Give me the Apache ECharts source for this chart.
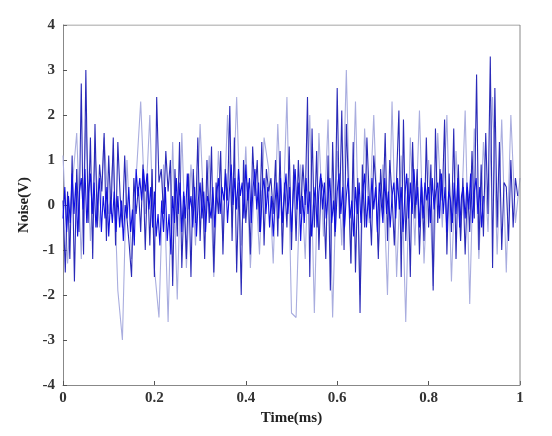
<!DOCTYPE html>
<html><head><meta charset="utf-8">
<script src="https://cdn.jsdelivr.net/npm/echarts@6/dist/echarts.min.js"></script>
<style>html,body{margin:0;background:#fff}#c{width:552px;height:436px}</style>
</head><body><div id="c"></div>
<script>
// main trace, sampled every 0.005 ms
const noiseMain = [
 0.1,-1.5,0.3,-1.2,1.1,-1.7,0.8,-0.6,2.7,-1.1,3.0,-0.4,1.5,-1.2,1.8,-0.5,0.9,0.3,1.6,-0.8,
 1.1,-0.2,1.5,-0.9,1.4,0.2,-0.5,1.1,-0.3,-0.9,-1.6,0.6,-0.2,0.4,-0.6,0.9,-1.0,0.7,-0.9,0.8,
 -1.6,2.4,0.5,0.8,-0.2,1.2,0.3,1.0,-1.8,0.8,-0.7,1.4,-1.4,0.2,-1.2,0.7,-1.6,0.8,-0.4,1.5,
 -0.8,0.6,-1.2,1.0,-0.4,1.3,-1.5,0.5,-0.2,1.2,-1.1,0.8,0.1,2.2,-0.8,1.5,-1.5,0.5,-2.0,1.0,
 -0.4,0.5,-1.1,1.3,0.2,1.0,-0.6,1.4,-0.9,0.8,0.3,0.6,-0.2,1.0,-0.7,1.2,-1.1,0.5,-0.5,1.3,
 -1.0,0.9,-0.8,1.0,-0.2,0.9,0.0,2.4,-1.6,1.7,-0.5,1.2,-1.0,0.6,0.3,-1.2,1.1,-1.9,1.4,-0.7,
 2.6,-0.3,2.1,-1.0,1.8,0.3,-1.3,1.4,-1.5,0.6,-2.4,0.9,-0.5,1.5,0.2,-0.9,1.1,0.4,-1.2,0.8,
 -0.2,1.6,-0.8,1.0,0.2,-0.9,0.6,2.1,-1.6,1.9,-0.8,0.6,-1.6,1.4,-0.3,0.8,-1.1,0.4,-0.8,1.5,
 -0.5,0.9,-1.9,1.7,-0.4,0.8,0.1,1.9,-1.1,0.7,-0.6,1.7,-1.2,0.9,-0.8,0.6,-1.1,0.4,-0.6,1.2,
 -0.3,2.9,-1.0,0.9,-0.7,1.6,-0.2,3.3,-1.4,2.6,-0.5,1.4,-1.0,0.5,0.4,-0.8,1.0,-0.5,0.6,0.2
];
// dense low-amplitude core, sampled every 0.004 ms
const noiseCore = [
 -0.3,0.4,-0.6,0.2,-0.4,0.7,-0.2,0.5,-0.7,0.3,0.6,-0.1,0.8,-0.4,0.3,0.7,-0.2,0.5,-0.5,0.1,
 0.6,-0.6,0.2,-0.3,0.4,-0.7,0.1,-0.4,0.3,-0.6,0.2,-0.5,0.1,-0.8,0.0,-0.3,0.4,-0.6,-0.1,-0.9,
 0.8,0.2,0.6,0.1,0.8,0.3,0.7,-0.1,0.4,-0.5,0.3,-0.7,-0.2,-0.9,0.1,-0.6,0.4,-0.8,-0.2,-1.1,
 0.2,-0.4,0.6,-0.2,0.5,-0.6,0.3,-0.3,0.7,-0.1,0.2,-0.5,0.4,-0.7,0.1,0.5,-0.3,0.3,-0.6,0.2,
 0.0,-0.3,0.4,-0.5,0.2,0.6,-0.2,0.4,0.1,0.7,-0.4,0.3,0.9,0.0,0.6,-0.1,0.8,0.2,0.5,-0.3,
 0.9,0.1,0.6,-0.4,0.4,0.8,-0.1,0.5,-0.6,0.3,0.6,-0.2,0.4,-0.5,0.2,-0.7,0.1,0.5,-0.3,0.6,
 -0.4,0.2,0.7,-0.2,0.4,-0.6,0.3,0.8,-0.1,0.5,-0.8,0.2,-0.4,0.6,-0.2,0.3,-0.7,0.0,0.4,-0.5,
 0.3,0.7,-0.1,0.5,-0.3,0.2,0.6,-0.4,0.1,-0.6,0.3,0.7,-0.2,0.4,-0.5,0.2,0.6,-0.3,0.1,-0.7,
 0.4,-0.2,0.5,-0.4,0.3,0.7,-0.5,0.2,-0.3,0.6,-0.1,0.4,-0.6,0.5,0.1,-0.4,0.6,-0.2,0.3,-0.5,
 0.2,0.5,-0.3,0.6,-0.1,0.4,-0.6,0.2,0.7,-0.3,0.5,-0.2,0.8,0.0,0.4,-0.5,0.6,-0.3,0.5,0.1,
 0.4,-0.4,0.6,-0.1,0.3,0.5,-0.3,0.7,-0.2,0.4,-0.6,0.3,0.1,-0.4,0.5,-0.2,0.6,-0.5,0.2,0.4,
 -0.3,0.5,-0.1,0.7,-0.4,0.3,0.6,-0.2,0.4,-0.5,0.2
];
// faint background trace, sampled every 0.01 ms
const noiseFaint = [
 1.1,-1.3,0.4,1.6,-1.2,1.9,-0.8,1.2,-0.5,1.5,-0.2,1.1,-1.9,-3.0,1.0,-1.2,0.6,2.3,-0.2,2.0,
 -1.4,-2.5,0.9,-2.6,1.4,-2.1,1.6,-1.4,0.9,-0.9,1.8,-0.6,1.1,-1.6,1.2,-0.8,2.0,-0.5,2.4,-0.9,
 1.3,-1.4,0.7,-1.1,1.5,0.8,-1.3,1.8,-0.7,2.4,-2.4,-2.5,0.9,-1.2,2.0,-2.4,1.6,-0.7,1.9,-2.5,
 1.2,-0.9,3.0,-1.3,2.3,-2.0,1.7,-0.4,2.0,-1.0,0.9,-2.0,2.3,-1.6,1.1,-2.6,1.5,-0.9,2.1,-1.3,
 1.0,-1.8,1.6,-0.5,2.0,-1.7,1.2,-0.8,2.1,-2.2,1.7,-1.2,1.4,-0.6,2.4,-1.1,1.9,-1.5,2.0,-0.4,0.6
];
const xTicks = [0, 0.2, 0.4, 0.6, 0.8, 1];
const yTicks = [-4, -3, -2, -1, 0, 1, 2, 3, 4];

const mainData = noiseMain.map((v, i) => [i * 0.005, v]);
const coreData = noiseCore.map((v, i) => [i * 0.004, v]);
const faintData = noiseFaint.map((v, i) => [i * 0.01, v]);

const font = '"Liberation Serif", "DejaVu Serif", serif';
const chart = echarts.init(document.getElementById('c'));
chart.setOption({
  animation: false,
  grid: { left: 63, right: 32, top: 25, bottom: 51 },
  xAxis: {
    type: 'value', min: 0, max: 1, interval: 0.2,
    name: 'Time(ms)', nameLocation: 'middle', nameGap: 24,
    nameTextStyle: { fontFamily: font, fontSize: 15, fontWeight: 'bold', color: '#222' },
    axisLine: { onZero: false, lineStyle: { color: '#888' } },
    axisTick: { inside: true, length: 4, lineStyle: { color: '#555' } },
    axisLabel: { fontFamily: font, fontSize: 15, fontWeight: 'bold', color: '#333', margin: 6,
      formatter: v => xTicks.includes(+v.toFixed(1)) ? String(+v.toFixed(1)) : '' },
    splitLine: { show: false }
  },
  yAxis: {
    type: 'value', min: -4, max: 4, interval: 1,
    name: 'Noise(V)', nameLocation: 'middle', nameGap: 28,
    nameTextStyle: { fontFamily: font, fontSize: 15, fontWeight: 'bold', color: '#222' },
    axisLine: { show: true, onZero: false, lineStyle: { color: '#888' } },
    axisTick: { show: true, inside: true, length: 4, lineStyle: { color: '#555' } },
    axisLabel: { fontFamily: font, fontSize: 15, fontWeight: 'bold', color: '#333', margin: 8,
      formatter: v => yTicks.includes(v) ? String(v) : '' },
    splitLine: { show: false }
  },
  series: [
    { type: 'line', data: faintData, symbol: 'none', z: 1,
      lineStyle: { color: '#a9addf', width: 1.1 } },
    { type: 'line', data: mainData, symbol: 'none', z: 2,
      lineStyle: { color: '#2a2ab8', width: 1.1 } },
    { type: 'line', data: coreData, symbol: 'none', z: 3,
      lineStyle: { color: '#1010e0', width: 1.1 } },
    { type: 'line', data: [[1, -4], [1, 4]], symbol: 'none', z: 4, silent: true,
      lineStyle: { color: '#888', width: 1 } },
    { type: 'line', data: [[0, 4], [1, 4]], symbol: 'none', z: 4, silent: true,
      lineStyle: { color: '#888', width: 1 } }
  ]
});
</script></body></html>
